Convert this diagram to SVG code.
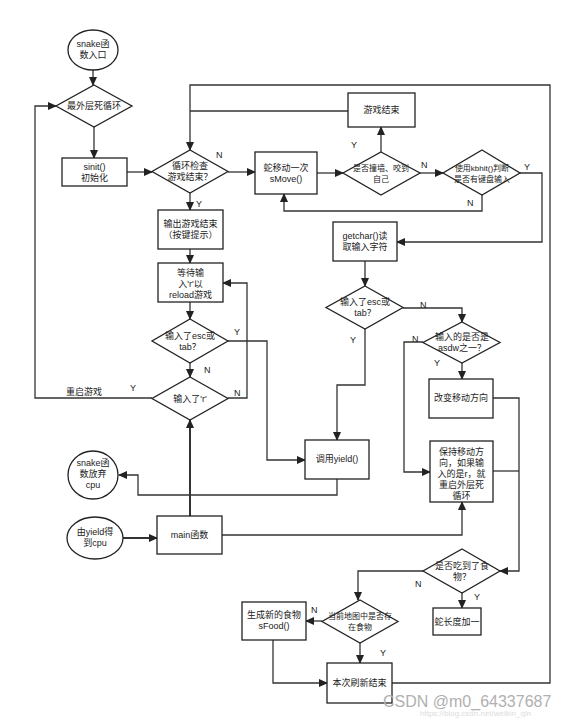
<svg xmlns="http://www.w3.org/2000/svg" width="572" height="720" viewBox="0 0 572 720">
<defs>
<marker id="ah" markerUnits="userSpaceOnUse" markerWidth="9" markerHeight="8" refX="8" refY="4" orient="auto">
<path d="M0,0 L9,4 L0,8 Z" fill="#222"/>
</marker>
<style>
.n{fill:#fff;stroke:#222;stroke-width:1.3}
.c{fill:none;stroke:#333;stroke-width:1.3}
.t{font-family:"Liberation Sans","Noto Sans CJK SC",sans-serif;font-size:9px;fill:#222;text-anchor:middle}
.s{font-size:8px}
.l{font-family:"Liberation Sans","Noto Sans CJK SC",sans-serif;font-size:9px;fill:#222}
.w{font-family:"Liberation Sans",sans-serif;fill:#b0b0b0}
</style>
</defs>
<rect width="572" height="720" fill="#fff"/>

<g id="connectors">
<path class="c" d="M93,70 V85" marker-end="url(#ah)"/>
<path class="c" d="M94,127 V158" marker-end="url(#ah)"/>
<path class="c" d="M127,172 H152" marker-end="url(#ah)"/>
<path class="c" d="M190,193 V210" marker-end="url(#ah)"/>
<path class="c" d="M190,249 V263" marker-end="url(#ah)"/>
<path class="c" d="M190,302 V319" marker-end="url(#ah)"/>
<path class="c" d="M190,363 V377" marker-end="url(#ah)"/>
<path class="c" d="M228,172 H255" marker-end="url(#ah)"/>
<path class="c" d="M317,173 H343" marker-end="url(#ah)"/>
<path class="c" d="M381,152 V127" marker-end="url(#ah)"/>
<path class="c" d="M420,173 H443" marker-end="url(#ah)"/>
<path class="c" d="M520,173 H542 V242 H397" marker-end="url(#ah)"/>
<path class="c" d="M482,195 V211 H284 V194" marker-end="url(#ah)"/>
<path class="c" d="M392,683 H550 V85 H190 V150" marker-end="url(#ah)"/>
<path class="c" d="M348,111 H190"/>
<path class="c" d="M365,261 V286" marker-end="url(#ah)"/>
<path class="c" d="M403,308 H462 V322" marker-end="url(#ah)"/>
<path class="c" d="M365,329 V385 H337 V440" marker-end="url(#ah)"/>
<path class="c" d="M423,342 H404 V472 H430" marker-end="url(#ah)"/>
<path class="c" d="M462,363 V379" marker-end="url(#ah)"/>
<path class="c" d="M493,398 H519 V571 H500" marker-end="url(#ah)"/>
<path class="c" d="M493,471 H519"/>
<path class="c" d="M423,571 H358 V600" marker-end="url(#ah)"/>
<path class="c" d="M462,593 V608" marker-end="url(#ah)"/>
<path class="c" d="M322,621 H306" marker-end="url(#ah)"/>
<path class="c" d="M360,643 V663" marker-end="url(#ah)"/>
<path class="c" d="M273,640 V683 H327" marker-end="url(#ah)"/>
<path class="c" d="M228,341 H267 V460 H305" marker-end="url(#ah)"/>
<path class="c" d="M228,398 H247 V283 H223" marker-end="url(#ah)"/>
<path class="c" d="M152,398 H35 V106 H56" marker-end="url(#ah)"/>
<path class="c" d="M337,479 V495 H138 V475 H119" marker-end="url(#ah)"/>
<path class="c" d="M123,538 H157" marker-end="url(#ah)" style="stroke-width:2"/>
<path class="c" d="M190,516 V420" marker-end="url(#ah)" style="stroke-width:2"/>
<path class="c" d="M222,535 H462 V502" marker-end="url(#ah)"/>
<text class="l" x="216" y="158">N</text>
<text class="l" x="196" y="207">Y</text>
<text class="l" x="351" y="148">Y</text>
<text class="l" x="421" y="168">N</text>
<text class="l" x="524" y="170">Y</text>
<text class="l" x="467" y="206">N</text>
<text class="l" x="234" y="335">Y</text>
<text class="l" x="204" y="373">N</text>
<text class="l" x="234" y="396">N</text>
<text class="l" x="130" y="391">Y</text>
<text class="l" x="66" y="395">重启游戏</text>
<text class="l" x="420" y="308">N</text>
<text class="l" x="350" y="343">Y</text>
<text class="l" x="412" y="342">N</text>
<text class="l" x="434" y="366">Y</text>
<text class="l" x="415" y="587">N</text>
<text class="l" x="474" y="600">Y</text>
<text class="l" x="311" y="613">N</text>
<text class="l" x="380" y="656">Y</text>
</g>

<g id="start"><ellipse class="n" cx="93" cy="50" rx="25" ry="20"/><text class="t" x="93" y="47">snake函</text><text class="t" x="93" y="58">数入口</text></g>
<g id="outerLoop"><polygon class="n" points="94,85 132,106 94,127 56,106"/><text class="t" x="94" y="109">最外层死循环</text></g>
<g id="sinit"><rect class="n" x="62" y="158" width="65" height="28"/><text class="t" x="94.5" y="170">sinit()</text><text class="t" x="94.5" y="181">初始化</text></g>
<g id="checkOver"><polygon class="n" points="190,150 228,171.5 190,193 152,171.5"/><text class="t" x="190" y="169">循环检查</text><text class="t" x="190" y="180">游戏结束？</text></g>
<g id="sMove"><rect class="n" x="255" y="152" width="62" height="42"/><text class="t" x="286" y="171">蛇移动一次</text><text class="t" x="286" y="182">sMove()</text></g>
<g id="hitWall"><polygon class="n" points="381,152 420,173 381,195 343,173"/><text class="t s" x="381" y="171">是否撞墙、咬到</text><text class="t s" x="381" y="182">自己</text></g>
<g id="gameOver"><rect class="n" x="348" y="93" width="67" height="34"/><text class="t" x="381.5" y="113">游戏结束</text></g>
<g id="kbhit"><polygon class="n" points="482,150 520,173 482,195 443,173"/><text class="t s" x="482" y="171">使用kbhit()判断</text><text class="t s" x="482" y="182">是否有键盘输入</text></g>
<g id="getchar"><rect class="n" x="333" y="222" width="64" height="39"/><text class="t" x="365" y="239">getchar()读</text><text class="t" x="365" y="250">取输入字符</text></g>
<g id="printOver"><rect class="n" x="158" y="210" width="65" height="39"/><text class="t" x="190.5" y="227">输出游戏结束</text><text class="t" x="190.5" y="238">（按键提示）</text></g>
<g id="waitR"><rect class="n" x="158" y="263" width="65" height="39"/><text class="t" x="190.5" y="276">等待输</text><text class="t" x="190.5" y="287">入'r'以</text><text class="t" x="190.5" y="298">reload游戏</text></g>
<g id="escTab1"><polygon class="n" points="190,319 228,341 190,363 152,341"/><text class="t" x="190" y="339">输入了esc或</text><text class="t" x="190" y="350">tab？</text></g>
<g id="inputR"><polygon class="n" points="190,377 228,398.5 190,420 152,398.5"/><text class="t" x="190" y="402">输入了'r'</text></g>
<g id="escTab2"><polygon class="n" points="365,286 403,307.5 365,329 326,307.5"/><text class="t" x="365" y="305">输入了esc或</text><text class="t" x="365" y="316">tab？</text></g>
<g id="asdw"><polygon class="n" points="462,322 500,342.5 462,363 423,342.5"/><text class="t" x="462" y="340">输入的是否是</text><text class="t" x="462" y="351">asdw之一？</text></g>
<g id="changeDir"><rect class="n" x="429" y="379" width="64" height="39"/><text class="t" x="461" y="401">改变移动方向</text></g>
<g id="keepDir"><rect class="n" x="430" y="441" width="63" height="61"/><text class="t" x="461.5" y="455">保持移动方</text><text class="t" x="461.5" y="466">向，如果输</text><text class="t" x="461.5" y="477">入的是r，就</text><text class="t" x="461.5" y="488">重启外层死</text><text class="t" x="461.5" y="499">循环</text></g>
<g id="yield"><rect class="n" x="305" y="440" width="64" height="39"/><text class="t" x="337" y="462">调用yield()</text></g>
<g id="giveCpu"><ellipse class="n" cx="93" cy="475" rx="25" ry="24"/><text class="t" x="93" y="466">snake函</text><text class="t" x="93" y="477">数放弃</text><text class="t" x="93" y="488">cpu</text></g>
<g id="getCpu"><ellipse class="n" cx="95" cy="538" rx="28" ry="21"/><text class="t" x="95" y="535">由yield得</text><text class="t" x="95" y="546">到cpu</text></g>
<g id="main"><rect class="n" x="157" y="516" width="65" height="38"/><text class="t" x="189.5" y="538">main函数</text></g>
<g id="eatFood"><polygon class="n" points="462,549 500,571 462,593 423,571"/><text class="t" x="462" y="569">是否吃到了食</text><text class="t" x="462" y="580">物？</text></g>
<g id="grow"><rect class="n" x="433" y="608" width="48" height="27"/><text class="t" x="457" y="625">蛇长度加一</text></g>
<g id="hasFood"><polygon class="n" points="360,600 398,621.5 360,643 322,621.5"/><text class="t s" x="360" y="619">当前地图中是否存</text><text class="t s" x="360" y="630">在食物</text></g>
<g id="sFood"><rect class="n" x="242" y="602" width="64" height="38"/><text class="t" x="274" y="618">生成新的食物</text><text class="t" x="274" y="629">sFood()</text></g>
<g id="endRound"><rect class="n" x="327" y="663" width="65" height="40"/><text class="t" x="359.5" y="686">本次刷新结束</text></g>

<text class="w" x="383" y="707" font-size="16">CSDN @m0_64337687</text>
<text class="w" x="420" y="716" font-size="8" style="fill:#ddd">https://blog.csdn.net/welkin_qin</text>
</svg>
